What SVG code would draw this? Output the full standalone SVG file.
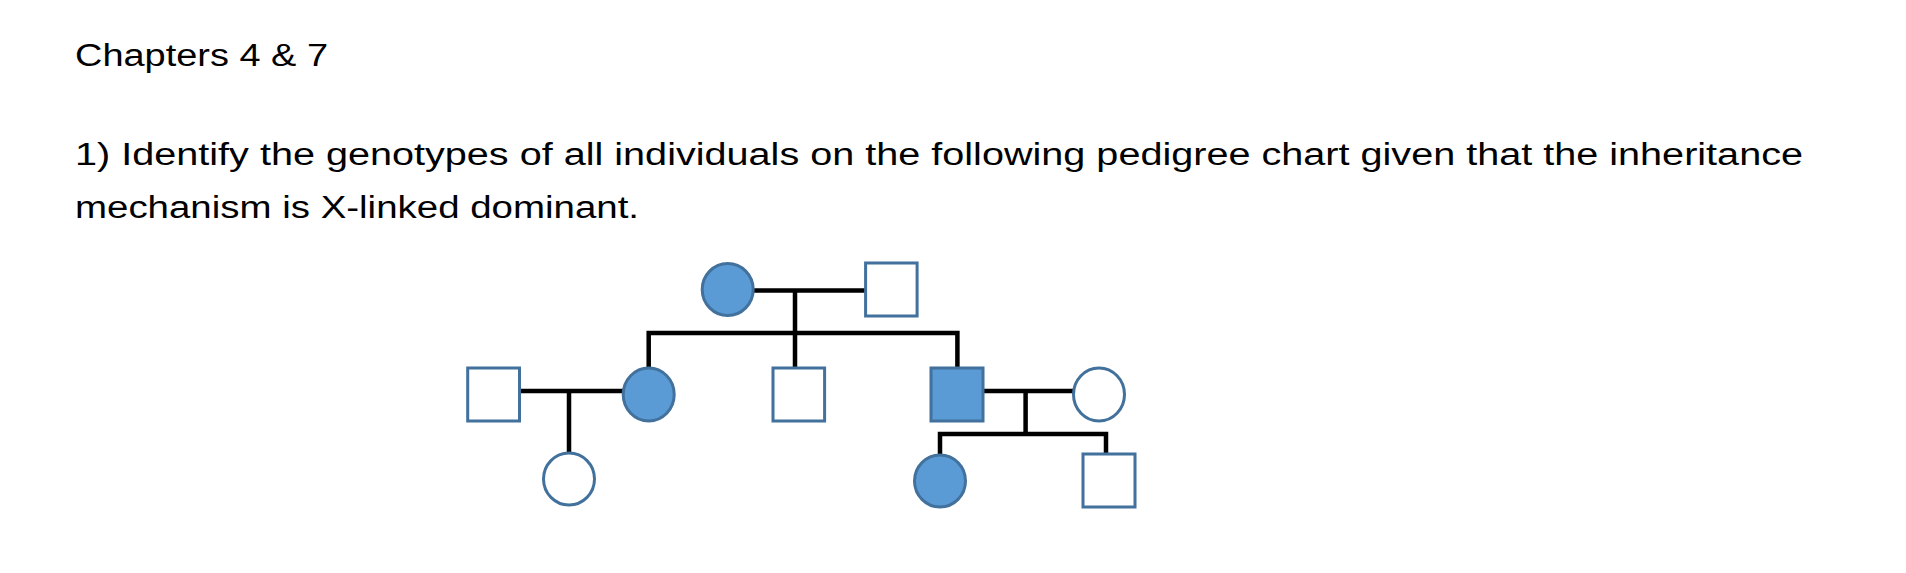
<svg xmlns="http://www.w3.org/2000/svg" width="1906" height="573" viewBox="0 0 1906 573">
<style>
text{font-family:"Liberation Sans",Arial,sans-serif;font-size:31px;fill:#000}
.a{fill:#5b9bd5;stroke:#41719c;stroke-width:3}
.u{fill:#fff;stroke:#41719c;stroke-width:3}
.l{stroke:#000;stroke-width:4.5;fill:none}
</style>
<rect width="1906" height="573" fill="#fff"/>
<text x="75" y="66" textLength="253" lengthAdjust="spacingAndGlyphs">Chapters 4 &amp; 7</text>
<text x="75" y="165" textLength="1728" lengthAdjust="spacingAndGlyphs">1) Identify the genotypes of all individuals on the following pedigree chart given that the inheritance</text>
<text x="75" y="218" textLength="564" lengthAdjust="spacingAndGlyphs">mechanism is X-linked dominant.</text>
<g id="connectors">
<path class="l" d="M752 290.5H866M795 290.5V333M648.7 368V333H957.4V368M795 333V368"/>
<path class="l" d="M519.5 391H623M569 391V453"/>
<path class="l" d="M983 391H1074M1025.6 391V434M940 455V434H1106V454"/>
</g>
<g id="gm"><ellipse class="a" cx="727.7" cy="289.5" rx="25.5" ry="26"/></g>
<g id="gf"><rect class="u" x="865.6" y="263" width="51.5" height="53"/></g>
<g id="husband"><rect class="u" x="467.7" y="368" width="51.8" height="53"/></g>
<g id="daughter"><ellipse class="a" cx="648.7" cy="394.5" rx="25.5" ry="26.5"/></g>
<g id="son1"><rect class="u" x="773" y="368" width="51.6" height="53"/></g>
<g id="son2"><rect class="a" x="931" y="368" width="52" height="53"/></g>
<g id="wife"><ellipse class="u" cx="1099" cy="394.5" rx="25.5" ry="26.5"/></g>
<g id="gd1"><ellipse class="u" cx="569" cy="479" rx="25.5" ry="26"/></g>
<g id="gd2"><ellipse class="a" cx="940" cy="481" rx="25.5" ry="26"/></g>
<g id="gs"><rect class="u" x="1083" y="454" width="52" height="53"/></g>
</svg>
